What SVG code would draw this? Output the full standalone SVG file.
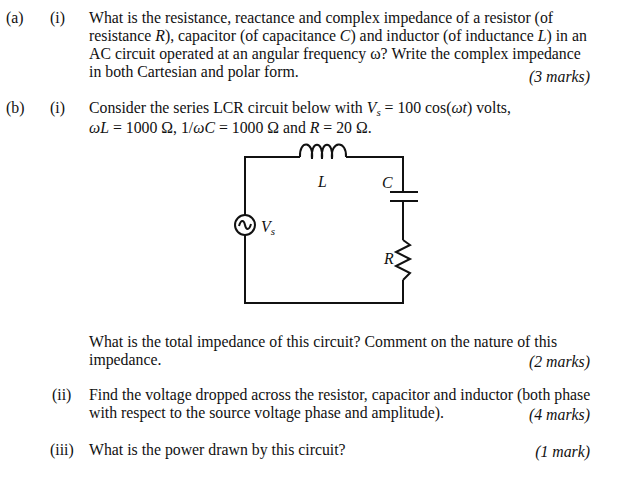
<svg xmlns="http://www.w3.org/2000/svg" width="631" height="483" viewBox="0 0 631 483">
<style>
text{font-family:"Liberation Serif",serif;font-size:15.8px;fill:#111}
.i{font-style:italic}
.w{fill:none;stroke:#111;stroke-width:2}
</style>
<rect width="631" height="483" fill="#fff"/>
<g id="text">
<text x="6" y="23">(a)</text><text x="50" y="23">(i)</text>
<text x="89" y="23">What is the resistance, reactance and complex impedance of a resistor (of</text>
<text x="89" y="41">resistance <tspan class="i">R</tspan>), capacitor (of capacitance <tspan class="i">C</tspan>) and inductor (of inductance <tspan class="i">L</tspan>) in an</text>
<text x="89" y="59">AC circuit operated at an angular frequency ω? Write the complex impedance</text>
<text x="89" y="77">in both Cartesian and polar form.</text>
<text x="590" y="82" text-anchor="end" class="i">(3 marks)</text>
<text x="6" y="113">(b)</text><text x="50" y="113">(i)</text>
<text x="89" y="113">Consider the series LCR circuit below with <tspan class="i">V<tspan font-size="11" dy="3">s</tspan></tspan><tspan dy="-3"> = 100 cos(<tspan class="i">ωt</tspan>) volts,</tspan></text>
<text x="89" y="133"><tspan class="i">ωL</tspan> = 1000 Ω, 1/<tspan class="i">ωC</tspan> = 1000 Ω and <tspan class="i">R</tspan> = 20 Ω.</text>
<text x="89" y="347">What is the total impedance of this circuit? Comment on the nature of this</text>
<text x="89" y="365">impedance.</text>
<text x="590" y="367" text-anchor="end" class="i">(2 marks)</text>
<text x="52" y="400">(ii)</text>
<text x="89" y="400">Find the voltage dropped across the resistor, capacitor and inductor (both phase</text>
<text x="89" y="418">with respect to the source voltage phase and amplitude).</text>
<text x="590" y="420" text-anchor="end" class="i">(4 marks)</text>
<text x="50" y="455">(iii)</text>
<text x="89" y="455">What is the power drawn by this circuit?</text>
<text x="590" y="457" text-anchor="end" class="i">(1 mark)</text>
</g>
<g id="connectors">
<path class="w" d="M245 215 V157 H300 M346 157 H403 V192 M403 201 V240 M403 280 V303 H245 V235"/>
</g>
<g id="inductor"><path class="w" d="M300 157 C299 140 314 140 312 159 C310 140 324 140 322 159 C320 140 334 140 332 159 C330 140 347 140 346 157"/><text x="318" y="187" class="i">L</text></g>
<g id="capacitor"><path class="w" d="M390 192 H418 M390 201 H418"/><text x="382" y="188" class="i">C</text></g>
<g id="resistor"><path class="w" d="M403 240 L410 245 L396 252 L410 259 L396 266 L410 273 L403 280"/><text x="384" y="264" class="i">R</text></g>
<g id="source"><circle class="w" cx="245" cy="225" r="10"/><path class="w" stroke-width="1.5" d="M239 226 C241 219 244 220 245 225 C246 230 249 231 251 224"/><text x="261" y="232" class="i">V<tspan font-size="11" dy="3">s</tspan></text></g>
</svg>
